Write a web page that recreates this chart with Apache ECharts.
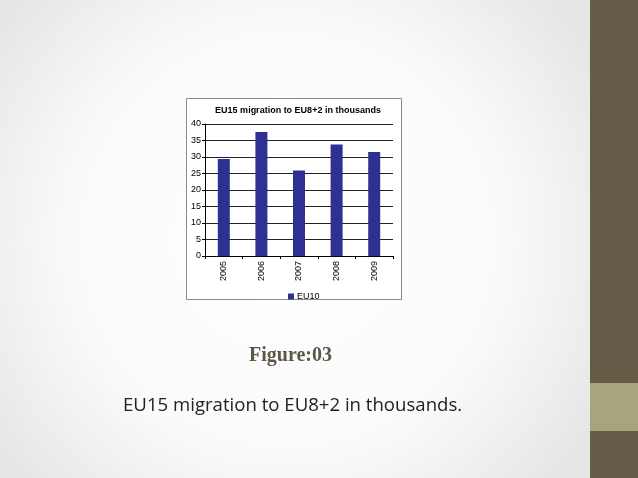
<!DOCTYPE html>
<html>
<head>
<meta charset="utf-8">
<script src="https://cdn.jsdelivr.net/npm/echarts@6/dist/echarts.min.js"></script>
<style>
  html, body { margin: 0; padding: 0; }
  #chart { width: 638px; height: 478px; }
</style>
</head>
<body>
<div id="chart"></div>
<script>
// values
const years = ['2005', '2006', '2007', '2008', '2009'];
const eu10 = [29.4, 37.6, 25.9, 33.8, 31.5];
const yTicks = [0, 5, 10, 15, 20, 25, 30, 35, 40];

const chart = echarts.init(document.getElementById('chart'));

const option = {
    animation: false,
    backgroundColor: {
        type: 'radial', x: 0.45, y: 0.5, r: 0.75,
        colorStops: [{ offset: 0, color: '#ffffff' }, { offset: 0.6, color: '#fafafa' }, { offset: 1, color: '#e6e6e6' }]
    },
    graphic: [
        // slide decoration on the right
        { type: 'rect', z: -10, shape: { x: 590, y: 0, width: 48, height: 478 }, style: { fill: '#655c48' } },
        { type: 'rect', z: -10, shape: { x: 590, y: 383, width: 48, height: 48 }, style: { fill: '#a8a57d' } },
        // white chart box
        { type: 'rect', z: -5, shape: { x: 186.5, y: 98.5, width: 215, height: 201 },
          style: { fill: '#ffffff', stroke: '#8a8a8a', lineWidth: 1 } },
        { type: 'text', left: 249, top: 346,
          style: { text: 'Figure:03', font: 'bold 20px "Liberation Serif"', fill: '#5d5747' } },
        { type: 'text', left: 123, top: 396,
          style: { text: 'EU15 migration to EU8+2 in thousands.', font: '18.6px "Open Sans"', fill: '#222222' } }
    ],
    title: {
        text: 'EU15 migration to EU8+2 in thousands',
        left: 293, top: 101, textAlign: 'center',
        textStyle: { fontFamily: 'Liberation Sans', fontSize: 9, fontWeight: 'bold', color: '#000' }
    },
    legend: {
        data: ['EU10'], left: 283, top: 287,
        itemWidth: 6, itemHeight: 6, itemGap: 4, icon: 'rect',
        textStyle: { fontFamily: 'Liberation Sans', fontSize: 9, color: '#000', padding: [0, 0, 0, -2] }
    },
    grid: { left: 205, right: 245, top: 124, bottom: 222 },
    xAxis: {
        type: 'category', data: years,
        axisLine: { lineStyle: { color: '#000', width: 1 } },
        axisTick: { show: true, length: 3, lineStyle: { color: '#000' } },
        axisLabel: { rotate: 90, fontFamily: 'Liberation Sans', fontSize: 9, color: '#000', margin: 5 }
    },
    yAxis: {
        type: 'value', min: yTicks[0], max: yTicks[yTicks.length - 1], interval: 5,
        axisLine: { show: true, lineStyle: { color: '#000', width: 1 } },
        axisTick: { show: true, length: 3, lineStyle: { color: '#000' } },
        axisLabel: { fontFamily: 'Liberation Sans', fontSize: 9, color: '#000', margin: 4 },
        splitLine: { lineStyle: { color: '#222', width: 1 } }
    },
    series: [{
        name: 'EU10', type: 'bar', data: eu10,
        barWidth: 12,
        itemStyle: { color: '#2e3192' }
    }]
};

chart.setOption(option);
</script>
</body>
</html>
